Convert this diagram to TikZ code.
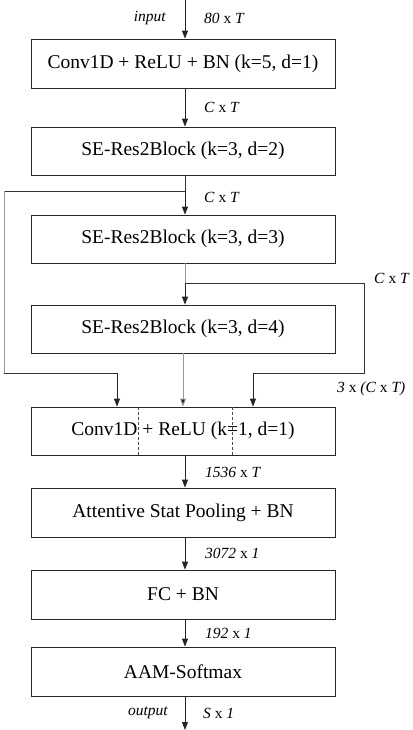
\documentclass[tikz,border=0pt]{standalone}
\usepackage{fontspec}
\setmainfont{Liberation Serif}
\usetikzlibrary{arrows.meta}
\tikzset{
  blk/.style={draw=black!85, line width=0.8pt, minimum width=304pt, inner sep=0pt, font=\fontsize{19.5}{22}\selectfont},
  lbl/.style={font=\fontsize{15.5}{18}\selectfont\itshape, inner sep=0pt},
  arr/.style={line width=0.9pt, draw=black!85, -{Triangle[length=8pt,width=6pt]}},
  ln/.style={line width=0.9pt, draw=black!80},
  gln/.style={line width=0.9pt, draw=black!40},
  garr/.style={line width=0.9pt, draw=black!40, -{Triangle[length=8pt,width=6pt, fill=black!85]}},
  dsh/.style={dashed, line width=0.6pt, draw=black!70, dash pattern=on 3pt off 2pt},
}
\begin{document}
\begin{tikzpicture}[x=1pt,y=-1pt]
\useasboundingbox (0,0) rectangle (412,730);
% boxes
\node[blk, minimum height=49pt] (b1) at (183,63.5) {Conv1D + ReLU + BN (k=5, d=1)};
\node[blk, minimum height=48pt] (b2) at (183,151) {SE-Res2Block (k=3, d=2)};
\node[blk, minimum height=48pt] (b3) at (183,239) {SE-Res2Block (k=3, d=3)};
\node[blk, minimum height=48pt] (b4) at (183,329) {SE-Res2Block (k=3, d=4)};
\node[blk, minimum height=48pt] (b5) at (183,431) {Conv1D + ReLU (k=1, d=1)};
\node[blk, minimum height=49pt] (b6) at (183,512.5) {Attentive Stat Pooling + BN};
\node[blk, minimum height=49pt] (b7) at (183,594.5) {FC + BN};
\node[blk, minimum height=49pt] (b8) at (183,671.5) {AAM-Softmax};
% coordinates
\coordinate (in) at (185,0);
\coordinate (out) at (185,730);
\coordinate (s1) at (185,191);
\coordinate (s1l) at (4,191);
\coordinate (s1b) at (4,373);
\coordinate (s1c) at (117,373);
\coordinate (s2) at (185,283);
\coordinate (s2r) at (364,283);
\coordinate (s2b) at (364,373);
\coordinate (s2c) at (253,373);
% main arrows
\draw[arr] (in) -- (in |- b1.north);
\draw[arr] (b1.south -| in) -- (b2.north -| in);
\draw[ln] (b2.south -| in) -- (s1);
\draw[arr] (s1) -- (b3.north -| in);
\draw[gln] (b3.south -| in) -- (s2);
\draw[arr] (s2) -- (b4.north -| in);
\draw[garr] (b4.south -| 183,0) -- (b5.north -| 183,0);
\draw[arr] (b5.south -| in) -- (b6.north -| in);
\draw[arr] (b6.south -| in) -- (b7.north -| in);
\draw[arr] (b7.south -| in) -- (b8.north -| in);
\draw[arr] (b8.south -| in) -- (out);
% skip connections
\draw[ln] (s1) -- (s1l);
\draw[gln] (s1l) -- (s1b);
\draw[ln] (s1b) -- (s1c);
\draw[arr] (s1c) -- (s1c |- b5.north);
\draw[ln] (s2) -- (s2r) -- (s2b) -- (s2c);
\draw[arr] (s2c) -- (s2c |- b5.north);
% dashed separators
\draw[dsh] (138,0 |- b5.north) -- (138,0 |- b5.south);
\draw[dsh] (232,0 |- b5.north) -- (232,0 |- b5.south);
% labels
\node[lbl, anchor=east] (l0a) at (166,18) {input};
\node[lbl, anchor=west] (l0b) at (204,18) {80 \textup{x} T};
\node[lbl, anchor=west] (l1) at (204,107) {C \textup{x} T};
\node[lbl, anchor=west] (l2) at (204,197) {C \textup{x} T};
\node[lbl, anchor=west] (l3) at (374,278) {C \textup{x} T};
\node[lbl, anchor=west] (l4) at (337,389) {3 \textup{x} (C \textup{x} T)};
\node[lbl, anchor=west] (l5) at (205,472) {1536 \textup{x} T};
\node[lbl, anchor=west] (l6) at (205,553) {3072 \textup{x} 1};
\node[lbl, anchor=west] (l7) at (205,633) {192 \textup{x} 1};
\node[lbl, anchor=east] (l8a) at (168,713) {output};
\node[lbl, anchor=west] (l8b) at (203,713) {S \textup{x} 1};
\end{tikzpicture}
\end{document}
